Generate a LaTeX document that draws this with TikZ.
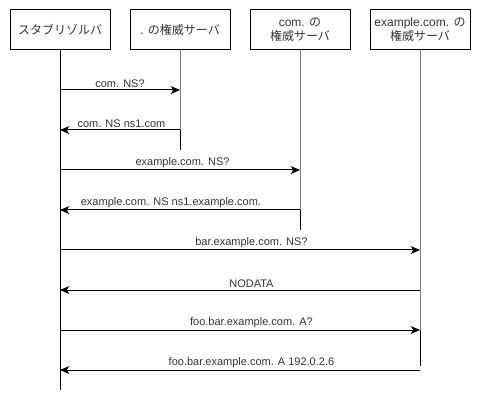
\documentclass[tikz,border=0pt]{standalone}
\usepackage{fontspec}
\setmainfont{Liberation Sans}
\newfontfamily\jpfont{Noto Sans CJK JP}
\usetikzlibrary{arrows.meta}
\definecolor{txt}{HTML}{333333}
\definecolor{life}{HTML}{808080}
\tikzset{
  actor/.style={draw=black, line width=0.75pt, minimum width=75pt, minimum height=30pt, inner sep=1pt, align=center, font=\fontsize{9pt}{10.5pt}\selectfont, text=txt},
  msg/.style={draw=black, line width=0.75pt, -{Stealth[length=7pt,width=6pt,inset=2pt]}},
  lbl/.style={font=\fontsize{8.25pt}{9pt}\selectfont, text=txt, anchor=south, inner sep=1.5pt},
  lifeg/.style={draw=life, line width=0.75pt},
  lifeb/.style={draw=black, line width=0.75pt}
}
\begin{document}
\begin{tikzpicture}[x=0.75pt,y=-0.75pt]
\useasboundingbox (0,0) rectangle (481,402);
\node[actor] (a) at (60,30) {\jpfont スタブリゾルバ};
\node[actor] (b) at (180,30) {. \jpfont の権威サーバ};
\node[actor] (c) at (300,30) {com. {\jpfont の}\\\jpfont 権威サーバ};
\node[actor] (d) at (420,30) {example.com. {\jpfont の}\\\jpfont 権威サーバ};
% lifeline ends
\coordinate (aE) at (60,390);
\coordinate (b1) at (180,130); \coordinate (bE) at (180,150);
\coordinate (c1) at (300,210); \coordinate (cE) at (300,230);
\coordinate (d1) at (420,330); \coordinate (dE) at (420,366);
\draw[lifeb] (a.south) -- (aE);
\draw[lifeg] (b.south) -- (b1); \draw[lifeb] (b1) -- (bE);
\draw[lifeg] (c.south) -- (c1); \draw[lifeb] (c1) -- (cE);
\draw[lifeg] (d.south) -- (d1); \draw[lifeb] (d1) -- (dE);
% message points
\foreach \n/\y in {1/90,2/130,3/170,4/210,5/250,6/290,7/330,8/370}{
  \coordinate (L\n) at (60,\y);
}
\coordinate (R1) at (180,90);
\coordinate (R2) at (180,130);
\coordinate (R3) at (300,170);
\coordinate (R4) at (300,210);
\coordinate (R5) at (420,250);
\coordinate (R6) at (420,290);
\coordinate (R7) at (420,330);
\coordinate (R8) at (420,370);
\draw[msg] (L1) -- node[lbl] {com. NS?} (R1);
\draw[msg] (R2) -- node[lbl, xshift=1.1pt] {com. NS ns1.com} (L2);
\draw[msg] (L3) -- node[lbl, xshift=1.9pt] {example.com. NS?} (R3);
\draw[msg] (R4) -- node[lbl, xshift=-6.8pt] {example.com. NS ns1.example.com.} (L4);
\draw[msg] (L5) -- node[lbl, xshift=8.6pt] {bar.example.com. NS?} (R5);
\draw[msg] (R6) -- node[lbl, xshift=8.6pt] {NODATA} (L6);
\draw[msg] (L7) -- node[lbl, xshift=8.6pt] {foo.bar.example.com. A?} (R7);
\draw[msg] (R8) -- node[lbl, xshift=8.6pt] {foo.bar.example.com. A 192.0.2.6} (L8);
\end{tikzpicture}
\end{document}
